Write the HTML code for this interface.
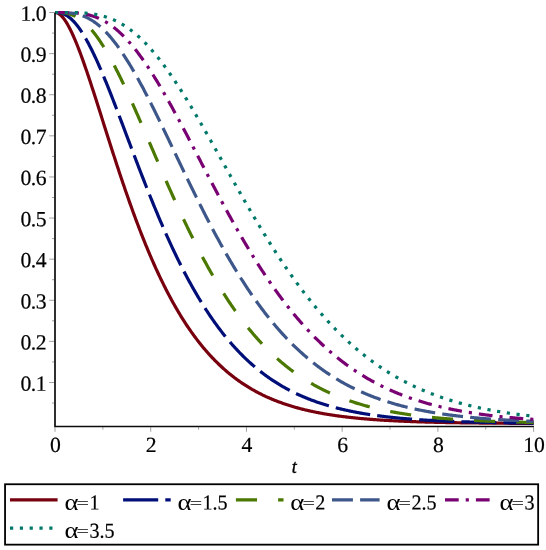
<!DOCTYPE html>
<html><head><meta charset="utf-8"><title>plot</title>
<style>
html,body{margin:0;padding:0;background:#fff;}
svg{display:block}
text{font-family:"Liberation Serif","DejaVu Serif",serif;font-size:21.7px;fill:#000;stroke:#000;stroke-width:0.2px}
.yl text{letter-spacing:-0.6px}
.lg{font-size:20.5px}
.ld{font-size:21.4px}
.al{stroke:none}
.it{font-style:italic;font-size:18px;stroke:#000;stroke-width:0.35px}
.tk line{stroke:#a0a0a0;stroke-width:1}
.cv path{fill:none;stroke-width:3.20}
</style></head><body>
<svg width="546" height="550" viewBox="0 0 546 550">
<rect width="546" height="550" fill="#fff"/>
<g class="tk">
<line x1="52.0" x2="54.2" y1="403.05" y2="403.05"/>
<line x1="49.2" x2="54.2" y1="382.49" y2="382.49"/>
<line x1="52.0" x2="54.2" y1="361.94" y2="361.94"/>
<line x1="49.2" x2="54.2" y1="341.38" y2="341.38"/>
<line x1="52.0" x2="54.2" y1="320.83" y2="320.83"/>
<line x1="49.2" x2="54.2" y1="300.27" y2="300.27"/>
<line x1="52.0" x2="54.2" y1="279.72" y2="279.72"/>
<line x1="49.2" x2="54.2" y1="259.16" y2="259.16"/>
<line x1="52.0" x2="54.2" y1="238.61" y2="238.61"/>
<line x1="49.2" x2="54.2" y1="218.05" y2="218.05"/>
<line x1="52.0" x2="54.2" y1="197.50" y2="197.50"/>
<line x1="49.2" x2="54.2" y1="176.94" y2="176.94"/>
<line x1="52.0" x2="54.2" y1="156.38" y2="156.38"/>
<line x1="49.2" x2="54.2" y1="135.83" y2="135.83"/>
<line x1="52.0" x2="54.2" y1="115.27" y2="115.27"/>
<line x1="49.2" x2="54.2" y1="94.72" y2="94.72"/>
<line x1="52.0" x2="54.2" y1="74.16" y2="74.16"/>
<line x1="49.2" x2="54.2" y1="53.61" y2="53.61"/>
<line x1="52.0" x2="54.2" y1="33.05" y2="33.05"/>
<line x1="49.2" x2="54.2" y1="12.50" y2="12.50"/>
<line y1="427.2" y2="431.8" x1="55.00" x2="55.00"/>
<line y1="427.2" y2="429.6" x1="102.86" x2="102.86"/>
<line y1="427.2" y2="431.8" x1="150.72" x2="150.72"/>
<line y1="427.2" y2="429.6" x1="198.58" x2="198.58"/>
<line y1="427.2" y2="431.8" x1="246.44" x2="246.44"/>
<line y1="427.2" y2="429.6" x1="294.30" x2="294.30"/>
<line y1="427.2" y2="431.8" x1="342.16" x2="342.16"/>
<line y1="427.2" y2="429.6" x1="390.02" x2="390.02"/>
<line y1="427.2" y2="431.8" x1="437.88" x2="437.88"/>
<line y1="427.2" y2="429.6" x1="485.74" x2="485.74"/>
<line y1="427.2" y2="431.8" x1="533.60" x2="533.60"/>
</g>
<g class="cv">
<path d="M55.00 12.50 L55.80 12.56 L56.60 12.72 L57.39 13.00 L58.19 13.37 L58.99 13.85 L59.79 14.42 L60.58 15.09 L61.38 15.85 L62.18 16.69 L62.98 17.61 L63.77 18.62 L64.57 19.70 L65.37 20.86 L66.17 22.09 L66.97 23.39 L67.76 24.76 L68.56 26.19 L69.36 27.68 L70.16 29.24 L70.95 30.85 L71.75 32.51 L72.55 34.22 L73.35 35.99 L74.14 37.80 L74.94 39.66 L75.74 41.57 L76.54 43.51 L77.33 45.50 L78.13 47.52 L78.93 49.58 L79.73 51.68 L80.53 53.81 L81.32 55.96 L82.12 58.15 L82.92 60.37 L83.72 62.61 L84.51 64.88 L85.31 67.17 L86.11 69.49 L86.91 71.82 L87.70 74.18 L88.50 76.55 L89.30 78.94 L90.10 81.35 L90.89 83.77 L91.69 86.20 L92.49 88.65 L93.29 91.11 L94.09 93.57 L94.88 96.05 L95.68 98.54 L96.48 101.03 L97.28 103.53 L98.07 106.03 L98.87 108.54 L99.67 111.05 L100.47 113.57 L101.26 116.09 L102.06 118.61 L102.86 121.13 L103.66 123.65 L104.46 126.17 L105.25 128.69 L106.05 131.20 L106.85 133.72 L107.65 136.23 L108.44 138.74 L109.24 141.24 L110.04 143.74 L110.84 146.23 L111.63 148.71 L112.43 151.19 L113.23 153.67 L114.03 156.13 L114.83 158.59 L115.62 161.04 L116.42 163.48 L117.22 165.91 L118.02 168.34 L118.81 170.75 L119.61 173.15 L120.41 175.54 L121.21 177.93 L122.00 180.30 L122.80 182.66 L123.60 185.01 L124.40 187.34 L125.19 189.67 L125.99 191.98 L126.79 194.28 L127.59 196.56 L128.39 198.84 L129.18 201.10 L129.98 203.35 L130.78 205.58 L131.58 207.80 L132.37 210.01 L133.17 212.20 L133.97 214.38 L134.77 216.54 L135.56 218.69 L136.36 220.83 L137.16 222.95 L137.96 225.05 L138.75 227.14 L139.55 229.22 L140.35 231.28 L141.15 233.33 L141.95 235.36 L142.74 237.37 L143.54 239.38 L144.34 241.36 L145.14 243.33 L145.93 245.29 L146.73 247.23 L147.53 249.15 L148.33 251.06 L149.12 252.95 L149.92 254.83 L150.72 256.69 L151.52 258.54 L152.32 260.37 L153.11 262.19 L153.91 263.99 L154.71 265.77 L155.51 267.54 L156.30 269.29 L157.10 271.03 L157.90 272.76 L158.70 274.47 L159.49 276.16 L160.29 277.84 L161.09 279.50 L161.89 281.15 L162.69 282.78 L163.48 284.40 L164.28 286.00 L165.08 287.59 L165.88 289.16 L166.67 290.72 L167.47 292.26 L168.27 293.79 L169.07 295.30 L169.86 296.80 L170.66 298.28 L171.46 299.75 L172.26 301.21 L173.05 302.65 L173.85 304.08 L174.65 305.49 L175.45 306.89 L176.25 308.28 L177.04 309.65 L177.84 311.00 L178.64 312.35 L179.44 313.68 L180.23 314.99 L181.03 316.30 L181.83 317.59 L182.63 318.86 L183.42 320.13 L184.22 321.38 L185.02 322.61 L185.82 323.84 L186.62 325.05 L187.41 326.25 L188.21 327.43 L189.01 328.60 L189.81 329.76 L190.60 330.91 L191.40 332.05 L192.20 333.17 L193.00 334.28 L193.79 335.38 L194.59 336.47 L195.39 337.54 L196.19 338.61 L196.98 339.66 L197.78 340.70 L198.58 341.73 L199.38 342.75 L200.18 343.75 L200.97 344.75 L201.77 345.73 L202.57 346.71 L203.37 347.67 L204.16 348.62 L204.96 349.56 L205.76 350.49 L206.56 351.41 L207.35 352.32 L208.15 353.22 L208.95 354.11 L209.75 354.99 L210.54 355.85 L211.34 356.71 L212.14 357.56 L212.94 358.40 L213.74 359.23 L214.53 360.05 L215.33 360.86 L216.13 361.66 L216.93 362.45 L217.72 363.23 L218.52 364.01 L219.32 364.77 L220.12 365.52 L220.91 366.27 L221.71 367.01 L222.51 367.74 L223.31 368.46 L224.11 369.17 L224.90 369.87 L225.70 370.56 L226.50 371.25 L227.30 371.93 L228.09 372.60 L228.89 373.26 L229.69 373.91 L230.49 374.56 L231.28 375.20 L232.08 375.83 L232.88 376.45 L233.68 377.07 L234.47 377.68 L235.27 378.28 L236.07 378.87 L236.87 379.46 L237.67 380.04 L238.46 380.61 L239.26 381.17 L240.06 381.73 L240.86 382.28 L241.65 382.82 L242.45 383.36 L243.25 383.89 L244.05 384.42 L244.84 384.94 L245.64 385.45 L246.44 385.95 L247.24 386.45 L248.04 386.94 L248.83 387.43 L249.63 387.91 L250.43 388.39 L251.23 388.85 L252.02 389.32 L252.82 389.77 L253.62 390.22 L254.42 390.67 L255.21 391.11 L256.01 391.54 L256.81 391.97 L257.61 392.40 L258.40 392.81 L259.20 393.23 L260.00 393.63 L260.80 394.04 L261.60 394.43 L262.39 394.83 L263.19 395.21 L263.99 395.60 L264.79 395.97 L265.58 396.35 L266.38 396.71 L267.18 397.08 L267.98 397.43 L268.77 397.79 L269.57 398.14 L270.37 398.48 L271.17 398.82 L271.97 399.16 L272.76 399.49 L273.56 399.82 L274.36 400.14 L275.16 400.46 L275.95 400.77 L276.75 401.08 L277.55 401.39 L278.35 401.69 L279.14 401.99 L279.94 402.29 L280.74 402.58 L281.54 402.87 L282.34 403.15 L283.13 403.43 L283.93 403.70 L284.73 403.98 L285.53 404.25 L286.32 404.51 L287.12 404.77 L287.92 405.03 L288.72 405.29 L289.51 405.54 L290.31 405.79 L291.11 406.03 L291.91 406.27 L292.70 406.51 L293.50 406.75 L294.30 406.98 L295.10 407.21 L295.90 407.44 L296.69 407.66 L297.49 407.88 L298.29 408.10 L299.09 408.31 L299.88 408.52 L300.68 408.73 L301.48 408.94 L302.28 409.14 L303.07 409.34 L303.87 409.54 L304.67 409.73 L305.47 409.93 L306.26 410.12 L307.06 410.30 L307.86 410.49 L308.66 410.67 L309.46 410.85 L310.25 411.03 L311.05 411.21 L311.85 411.38 L312.65 411.55 L313.44 411.72 L314.24 411.88 L315.04 412.05 L315.84 412.21 L316.63 412.37 L317.43 412.52 L318.23 412.68 L319.03 412.83 L319.83 412.98 L320.62 413.13 L321.42 413.28 L322.22 413.42 L323.02 413.57 L323.81 413.71 L324.61 413.85 L325.41 413.98 L326.21 414.12 L327.00 414.25 L327.80 414.38 L328.60 414.51 L329.40 414.64 L330.19 414.77 L330.99 414.89 L331.79 415.02 L332.59 415.14 L333.39 415.26 L334.18 415.37 L334.98 415.49 L335.78 415.60 L336.58 415.72 L337.37 415.83 L338.17 415.94 L338.97 416.05 L339.77 416.15 L340.56 416.26 L341.36 416.36 L342.16 416.47 L342.96 416.57 L343.76 416.67 L344.55 416.77 L345.35 416.86 L346.15 416.96 L346.95 417.05 L347.74 417.15 L348.54 417.24 L349.34 417.33 L350.14 417.42 L350.93 417.51 L351.73 417.59 L352.53 417.68 L353.33 417.76 L354.12 417.85 L354.92 417.93 L355.72 418.01 L356.52 418.09 L357.32 418.17 L358.11 418.25 L358.91 418.32 L359.71 418.40 L360.51 418.47 L361.30 418.55 L362.10 418.62 L362.90 418.69 L363.70 418.76 L364.49 418.83 L365.29 418.90 L366.09 418.96 L366.89 419.03 L367.69 419.10 L368.48 419.16 L369.28 419.22 L370.08 419.29 L370.88 419.35 L371.67 419.41 L372.47 419.47 L373.27 419.53 L374.07 419.59 L374.86 419.65 L375.66 419.70 L376.46 419.76 L377.26 419.82 L378.06 419.87 L378.85 419.92 L379.65 419.98 L380.45 420.03 L381.25 420.08 L382.04 420.13 L382.84 420.18 L383.64 420.23 L384.44 420.28 L385.23 420.33 L386.03 420.37 L386.83 420.42 L387.63 420.47 L388.42 420.51 L389.22 420.56 L390.02 420.60 L390.82 420.64 L391.62 420.69 L392.41 420.73 L393.21 420.77 L394.01 420.81 L394.81 420.85 L395.60 420.89 L396.40 420.93 L397.20 420.97 L398.00 421.01 L398.79 421.05 L399.59 421.08 L400.39 421.12 L401.19 421.16 L401.99 421.19 L402.78 421.23 L403.58 421.26 L404.38 421.29 L405.18 421.33 L405.97 421.36 L406.77 421.39 L407.57 421.43 L408.37 421.46 L409.16 421.49 L409.96 421.52 L410.76 421.55 L411.56 421.58 L412.35 421.61 L413.15 421.64 L413.95 421.67 L414.75 421.70 L415.55 421.72 L416.34 421.75 L417.14 421.78 L417.94 421.80 L418.74 421.83 L419.53 421.86 L420.33 421.88 L421.13 421.91 L421.93 421.93 L422.72 421.96 L423.52 421.98 L424.32 422.00 L425.12 422.03 L425.92 422.05 L426.71 422.07 L427.51 422.10 L428.31 422.12 L429.11 422.14 L429.90 422.16 L430.70 422.18 L431.50 422.20 L432.30 422.22 L433.09 422.24 L433.89 422.26 L434.69 422.28 L435.49 422.30 L436.28 422.32 L437.08 422.34 L437.88 422.36 L438.68 422.38 L439.48 422.40 L440.27 422.41 L441.07 422.43 L441.87 422.45 L442.67 422.46 L443.46 422.48 L444.26 422.50 L445.06 422.51 L445.86 422.53 L446.65 422.55 L447.45 422.56 L448.25 422.58 L449.05 422.59 L449.84 422.61 L450.64 422.62 L451.44 422.64 L452.24 422.65 L453.04 422.66 L453.83 422.68 L454.63 422.69 L455.43 422.70 L456.23 422.72 L457.02 422.73 L457.82 422.74 L458.62 422.76 L459.42 422.77 L460.21 422.78 L461.01 422.79 L461.81 422.81 L462.61 422.82 L463.41 422.83 L464.20 422.84 L465.00 422.85 L465.80 422.86 L466.60 422.87 L467.39 422.88 L468.19 422.89 L468.99 422.91 L469.79 422.92 L470.58 422.93 L471.38 422.94 L472.18 422.95 L472.98 422.96 L473.77 422.96 L474.57 422.97 L475.37 422.98 L476.17 422.99 L476.97 423.00 L477.76 423.01 L478.56 423.02 L479.36 423.03 L480.16 423.04 L480.95 423.04 L481.75 423.05 L482.55 423.06 L483.35 423.07 L484.14 423.08 L484.94 423.08 L485.74 423.09 L486.54 423.10 L487.34 423.11 L488.13 423.11 L488.93 423.12 L489.73 423.13 L490.53 423.14 L491.32 423.14 L492.12 423.15 L492.92 423.16 L493.72 423.16 L494.51 423.17 L495.31 423.18 L496.11 423.18 L496.91 423.19 L497.70 423.20 L498.50 423.20 L499.30 423.21 L500.10 423.21 L500.90 423.22 L501.69 423.22 L502.49 423.23 L503.29 423.24 L504.09 423.24 L504.88 423.25 L505.68 423.25 L506.48 423.26 L507.28 423.26 L508.07 423.27 L508.87 423.27 L509.67 423.28 L510.47 423.28 L511.27 423.29 L512.06 423.29 L512.86 423.30 L513.66 423.30 L514.46 423.30 L515.25 423.31 L516.05 423.31 L516.85 423.32 L517.65 423.32 L518.44 423.33 L519.24 423.33 L520.04 423.33 L520.84 423.34 L521.63 423.34 L522.43 423.35 L523.23 423.35 L524.03 423.35 L524.83 423.36 L525.62 423.36 L526.42 423.36 L527.22 423.37 L528.02 423.37 L528.81 423.38 L529.61 423.38 L530.41 423.38 L531.21 423.39 L532.00 423.39 L532.80 423.39 L533.60 423.39" stroke="#78000E"/>
<path d="M55.00 12.50 L55.80 12.50 L56.60 12.52 L57.39 12.57 L58.19 12.64 L58.99 12.73 L59.79 12.86 L60.58 13.03 L61.38 13.23 L62.18 13.47 L62.98 13.75 L63.77 14.06 L64.57 14.42 L65.37 14.82 L66.17 15.26 L66.97 15.74 L67.76 16.26 L68.56 16.83 L69.36 17.43 L70.16 18.08 L70.95 18.77 L71.75 19.50 L72.55 20.27 L73.35 21.09 L74.14 21.94 L74.94 22.84 L75.74 23.77 L76.54 24.74 L77.33 25.75 L78.13 26.80 L78.93 27.89 L79.73 29.01 L80.53 30.17 L81.32 31.37 L82.12 32.60 L82.92 33.86 L83.72 35.16 L84.51 36.49 L85.31 37.86 L86.11 39.25 L86.91 40.67 L87.70 42.13 L88.50 43.61 L89.30 45.13 L90.10 46.67 L90.89 48.24 L91.69 49.83 L92.49 51.45 L93.29 53.10 L94.09 54.77 L94.88 56.46 L95.68 58.17 L96.48 59.91 L97.28 61.67 L98.07 63.45 L98.87 65.25 L99.67 67.07 L100.47 68.90 L101.26 70.76 L102.06 72.63 L102.86 74.52 L103.66 76.42 L104.46 78.34 L105.25 80.27 L106.05 82.22 L106.85 84.18 L107.65 86.15 L108.44 88.14 L109.24 90.14 L110.04 92.14 L110.84 94.16 L111.63 96.19 L112.43 98.22 L113.23 100.27 L114.03 102.32 L114.83 104.38 L115.62 106.45 L116.42 108.52 L117.22 110.60 L118.02 112.69 L118.81 114.78 L119.61 116.87 L120.41 118.97 L121.21 121.07 L122.00 123.17 L122.80 125.28 L123.60 127.39 L124.40 129.50 L125.19 131.61 L125.99 133.72 L126.79 135.84 L127.59 137.95 L128.39 140.06 L129.18 142.17 L129.98 144.28 L130.78 146.39 L131.58 148.50 L132.37 150.60 L133.17 152.71 L133.97 154.81 L134.77 156.90 L135.56 158.99 L136.36 161.08 L137.16 163.17 L137.96 165.25 L138.75 167.33 L139.55 169.40 L140.35 171.46 L141.15 173.52 L141.95 175.58 L142.74 177.63 L143.54 179.67 L144.34 181.70 L145.14 183.73 L145.93 185.76 L146.73 187.77 L147.53 189.78 L148.33 191.78 L149.12 193.77 L149.92 195.76 L150.72 197.74 L151.52 199.70 L152.32 201.66 L153.11 203.62 L153.91 205.56 L154.71 207.49 L155.51 209.42 L156.30 211.34 L157.10 213.24 L157.90 215.14 L158.70 217.03 L159.49 218.91 L160.29 220.77 L161.09 222.63 L161.89 224.48 L162.69 226.32 L163.48 228.15 L164.28 229.97 L165.08 231.77 L165.88 233.57 L166.67 235.36 L167.47 237.13 L168.27 238.90 L169.07 240.65 L169.86 242.40 L170.66 244.13 L171.46 245.85 L172.26 247.56 L173.05 249.26 L173.85 250.95 L174.65 252.63 L175.45 254.30 L176.25 255.95 L177.04 257.60 L177.84 259.23 L178.64 260.85 L179.44 262.46 L180.23 264.06 L181.03 265.65 L181.83 267.23 L182.63 268.79 L183.42 270.35 L184.22 271.89 L185.02 273.42 L185.82 274.94 L186.62 276.45 L187.41 277.95 L188.21 279.43 L189.01 280.91 L189.81 282.37 L190.60 283.82 L191.40 285.26 L192.20 286.69 L193.00 288.11 L193.79 289.51 L194.59 290.91 L195.39 292.29 L196.19 293.66 L196.98 295.02 L197.78 296.37 L198.58 297.71 L199.38 299.04 L200.18 300.36 L200.97 301.66 L201.77 302.96 L202.57 304.24 L203.37 305.51 L204.16 306.78 L204.96 308.03 L205.76 309.27 L206.56 310.50 L207.35 311.72 L208.15 312.92 L208.95 314.12 L209.75 315.31 L210.54 316.48 L211.34 317.65 L212.14 318.81 L212.94 319.95 L213.74 321.08 L214.53 322.21 L215.33 323.32 L216.13 324.43 L216.93 325.52 L217.72 326.60 L218.52 327.68 L219.32 328.74 L220.12 329.79 L220.91 330.84 L221.71 331.87 L222.51 332.89 L223.31 333.91 L224.11 334.91 L224.90 335.91 L225.70 336.89 L226.50 337.87 L227.30 338.84 L228.09 339.79 L228.89 340.74 L229.69 341.68 L230.49 342.61 L231.28 343.53 L232.08 344.44 L232.88 345.34 L233.68 346.24 L234.47 347.12 L235.27 348.00 L236.07 348.87 L236.87 349.72 L237.67 350.57 L238.46 351.42 L239.26 352.25 L240.06 353.07 L240.86 353.89 L241.65 354.70 L242.45 355.50 L243.25 356.29 L244.05 357.07 L244.84 357.85 L245.64 358.61 L246.44 359.37 L247.24 360.12 L248.04 360.87 L248.83 361.60 L249.63 362.33 L250.43 363.05 L251.23 363.76 L252.02 364.47 L252.82 365.17 L253.62 365.86 L254.42 366.54 L255.21 367.22 L256.01 367.89 L256.81 368.55 L257.61 369.20 L258.40 369.85 L259.20 370.49 L260.00 371.12 L260.80 371.75 L261.60 372.37 L262.39 372.98 L263.19 373.59 L263.99 374.19 L264.79 374.79 L265.58 375.37 L266.38 375.95 L267.18 376.53 L267.98 377.10 L268.77 377.66 L269.57 378.21 L270.37 378.76 L271.17 379.31 L271.97 379.84 L272.76 380.38 L273.56 380.90 L274.36 381.42 L275.16 381.94 L275.95 382.44 L276.75 382.95 L277.55 383.44 L278.35 383.94 L279.14 384.42 L279.94 384.90 L280.74 385.38 L281.54 385.85 L282.34 386.31 L283.13 386.77 L283.93 387.22 L284.73 387.67 L285.53 388.12 L286.32 388.55 L287.12 388.99 L287.92 389.42 L288.72 389.84 L289.51 390.26 L290.31 390.67 L291.11 391.08 L291.91 391.49 L292.70 391.89 L293.50 392.28 L294.30 392.67 L295.10 393.06 L295.90 393.44 L296.69 393.82 L297.49 394.19 L298.29 394.56 L299.09 394.92 L299.88 395.28 L300.68 395.64 L301.48 395.99 L302.28 396.33 L303.07 396.68 L303.87 397.02 L304.67 397.35 L305.47 397.68 L306.26 398.01 L307.06 398.33 L307.86 398.65 L308.66 398.97 L309.46 399.28 L310.25 399.59 L311.05 399.89 L311.85 400.20 L312.65 400.49 L313.44 400.79 L314.24 401.08 L315.04 401.36 L315.84 401.65 L316.63 401.93 L317.43 402.20 L318.23 402.48 L319.03 402.75 L319.83 403.01 L320.62 403.28 L321.42 403.54 L322.22 403.80 L323.02 404.05 L323.81 404.30 L324.61 404.55 L325.41 404.79 L326.21 405.04 L327.00 405.27 L327.80 405.51 L328.60 405.74 L329.40 405.97 L330.19 406.20 L330.99 406.43 L331.79 406.65 L332.59 406.87 L333.39 407.09 L334.18 407.30 L334.98 407.51 L335.78 407.72 L336.58 407.93 L337.37 408.13 L338.17 408.33 L338.97 408.53 L339.77 408.72 L340.56 408.92 L341.36 409.11 L342.16 409.30 L342.96 409.49 L343.76 409.67 L344.55 409.85 L345.35 410.03 L346.15 410.21 L346.95 410.38 L347.74 410.56 L348.54 410.73 L349.34 410.90 L350.14 411.06 L350.93 411.23 L351.73 411.39 L352.53 411.55 L353.33 411.71 L354.12 411.87 L354.92 412.02 L355.72 412.17 L356.52 412.32 L357.32 412.47 L358.11 412.62 L358.91 412.76 L359.71 412.91 L360.51 413.05 L361.30 413.19 L362.10 413.33 L362.90 413.46 L363.70 413.60 L364.49 413.73 L365.29 413.86 L366.09 413.99 L366.89 414.12 L367.69 414.24 L368.48 414.37 L369.28 414.49 L370.08 414.61 L370.88 414.73 L371.67 414.85 L372.47 414.97 L373.27 415.08 L374.07 415.19 L374.86 415.31 L375.66 415.42 L376.46 415.53 L377.26 415.63 L378.06 415.74 L378.85 415.85 L379.65 415.95 L380.45 416.05 L381.25 416.15 L382.04 416.25 L382.84 416.35 L383.64 416.45 L384.44 416.54 L385.23 416.64 L386.03 416.73 L386.83 416.83 L387.63 416.92 L388.42 417.01 L389.22 417.10 L390.02 417.18 L390.82 417.27 L391.62 417.35 L392.41 417.44 L393.21 417.52 L394.01 417.60 L394.81 417.69 L395.60 417.77 L396.40 417.84 L397.20 417.92 L398.00 418.00 L398.79 418.07 L399.59 418.15 L400.39 418.22 L401.19 418.30 L401.99 418.37 L402.78 418.44 L403.58 418.51 L404.38 418.58 L405.18 418.65 L405.97 418.71 L406.77 418.78 L407.57 418.85 L408.37 418.91 L409.16 418.97 L409.96 419.04 L410.76 419.10 L411.56 419.16 L412.35 419.22 L413.15 419.28 L413.95 419.34 L414.75 419.40 L415.55 419.46 L416.34 419.51 L417.14 419.57 L417.94 419.62 L418.74 419.68 L419.53 419.73 L420.33 419.78 L421.13 419.84 L421.93 419.89 L422.72 419.94 L423.52 419.99 L424.32 420.04 L425.12 420.09 L425.92 420.14 L426.71 420.18 L427.51 420.23 L428.31 420.28 L429.11 420.32 L429.90 420.37 L430.70 420.41 L431.50 420.46 L432.30 420.50 L433.09 420.54 L433.89 420.58 L434.69 420.63 L435.49 420.67 L436.28 420.71 L437.08 420.75 L437.88 420.79 L438.68 420.83 L439.48 420.86 L440.27 420.90 L441.07 420.94 L441.87 420.98 L442.67 421.01 L443.46 421.05 L444.26 421.08 L445.06 421.12 L445.86 421.15 L446.65 421.19 L447.45 421.22 L448.25 421.25 L449.05 421.29 L449.84 421.32 L450.64 421.35 L451.44 421.38 L452.24 421.41 L453.04 421.44 L453.83 421.47 L454.63 421.50 L455.43 421.53 L456.23 421.56 L457.02 421.59 L457.82 421.62 L458.62 421.64 L459.42 421.67 L460.21 421.70 L461.01 421.72 L461.81 421.75 L462.61 421.78 L463.41 421.80 L464.20 421.83 L465.00 421.85 L465.80 421.88 L466.60 421.90 L467.39 421.92 L468.19 421.95 L468.99 421.97 L469.79 421.99 L470.58 422.02 L471.38 422.04 L472.18 422.06 L472.98 422.08 L473.77 422.10 L474.57 422.12 L475.37 422.14 L476.17 422.16 L476.97 422.18 L477.76 422.20 L478.56 422.22 L479.36 422.24 L480.16 422.26 L480.95 422.28 L481.75 422.30 L482.55 422.32 L483.35 422.34 L484.14 422.35 L484.94 422.37 L485.74 422.39 L486.54 422.41 L487.34 422.42 L488.13 422.44 L488.93 422.46 L489.73 422.47 L490.53 422.49 L491.32 422.50 L492.12 422.52 L492.92 422.53 L493.72 422.55 L494.51 422.56 L495.31 422.58 L496.11 422.59 L496.91 422.61 L497.70 422.62 L498.50 422.64 L499.30 422.65 L500.10 422.66 L500.90 422.68 L501.69 422.69 L502.49 422.70 L503.29 422.71 L504.09 422.73 L504.88 422.74 L505.68 422.75 L506.48 422.76 L507.28 422.78 L508.07 422.79 L508.87 422.80 L509.67 422.81 L510.47 422.82 L511.27 422.83 L512.06 422.84 L512.86 422.85 L513.66 422.86 L514.46 422.87 L515.25 422.89 L516.05 422.90 L516.85 422.91 L517.65 422.92 L518.44 422.92 L519.24 422.93 L520.04 422.94 L520.84 422.95 L521.63 422.96 L522.43 422.97 L523.23 422.98 L524.03 422.99 L524.83 423.00 L525.62 423.01 L526.42 423.02 L527.22 423.02 L528.02 423.03 L528.81 423.04 L529.61 423.05 L530.41 423.06 L531.21 423.06 L532.00 423.07 L532.80 423.08 L533.60 423.09" stroke="#000E78" stroke-dasharray="35.1 7.1"/>
<path d="M55.00 12.50 L55.80 12.50 L56.60 12.50 L57.39 12.51 L58.19 12.52 L58.99 12.54 L59.79 12.56 L60.58 12.60 L61.38 12.65 L62.18 12.71 L62.98 12.78 L63.77 12.87 L64.57 12.97 L65.37 13.09 L66.17 13.23 L66.97 13.39 L67.76 13.57 L68.56 13.76 L69.36 13.98 L70.16 14.22 L70.95 14.48 L71.75 14.76 L72.55 15.07 L73.35 15.40 L74.14 15.76 L74.94 16.14 L75.74 16.54 L76.54 16.97 L77.33 17.43 L78.13 17.91 L78.93 18.41 L79.73 18.95 L80.53 19.51 L81.32 20.09 L82.12 20.70 L82.92 21.34 L83.72 22.00 L84.51 22.69 L85.31 23.41 L86.11 24.15 L86.91 24.92 L87.70 25.71 L88.50 26.54 L89.30 27.38 L90.10 28.25 L90.89 29.15 L91.69 30.07 L92.49 31.02 L93.29 32.00 L94.09 32.99 L94.88 34.01 L95.68 35.06 L96.48 36.13 L97.28 37.22 L98.07 38.34 L98.87 39.48 L99.67 40.64 L100.47 41.83 L101.26 43.03 L102.06 44.26 L102.86 45.51 L103.66 46.78 L104.46 48.07 L105.25 49.39 L106.05 50.72 L106.85 52.07 L107.65 53.44 L108.44 54.83 L109.24 56.24 L110.04 57.66 L110.84 59.10 L111.63 60.57 L112.43 62.04 L113.23 63.54 L114.03 65.05 L114.83 66.57 L115.62 68.11 L116.42 69.67 L117.22 71.24 L118.02 72.83 L118.81 74.42 L119.61 76.04 L120.41 77.66 L121.21 79.30 L122.00 80.95 L122.80 82.61 L123.60 84.28 L124.40 85.97 L125.19 87.66 L125.99 89.37 L126.79 91.08 L127.59 92.81 L128.39 94.54 L129.18 96.28 L129.98 98.04 L130.78 99.79 L131.58 101.56 L132.37 103.34 L133.17 105.12 L133.97 106.90 L134.77 108.70 L135.56 110.50 L136.36 112.31 L137.16 114.12 L137.96 115.93 L138.75 117.75 L139.55 119.58 L140.35 121.41 L141.15 123.24 L141.95 125.08 L142.74 126.92 L143.54 128.76 L144.34 130.60 L145.14 132.45 L145.93 134.30 L146.73 136.15 L147.53 138.00 L148.33 139.86 L149.12 141.71 L149.92 143.56 L150.72 145.42 L151.52 147.27 L152.32 149.13 L153.11 150.98 L153.91 152.83 L154.71 154.69 L155.51 156.54 L156.30 158.39 L157.10 160.23 L157.90 162.08 L158.70 163.92 L159.49 165.76 L160.29 167.60 L161.09 169.44 L161.89 171.27 L162.69 173.10 L163.48 174.93 L164.28 176.75 L165.08 178.57 L165.88 180.38 L166.67 182.19 L167.47 184.00 L168.27 185.80 L169.07 187.60 L169.86 189.39 L170.66 191.18 L171.46 192.96 L172.26 194.74 L173.05 196.51 L173.85 198.28 L174.65 200.04 L175.45 201.79 L176.25 203.54 L177.04 205.28 L177.84 207.02 L178.64 208.75 L179.44 210.47 L180.23 212.19 L181.03 213.90 L181.83 215.60 L182.63 217.30 L183.42 218.99 L184.22 220.67 L185.02 222.35 L185.82 224.01 L186.62 225.67 L187.41 227.33 L188.21 228.97 L189.01 230.61 L189.81 232.24 L190.60 233.86 L191.40 235.47 L192.20 237.08 L193.00 238.68 L193.79 240.26 L194.59 241.85 L195.39 243.42 L196.19 244.98 L196.98 246.54 L197.78 248.09 L198.58 249.63 L199.38 251.16 L200.18 252.68 L200.97 254.19 L201.77 255.70 L202.57 257.19 L203.37 258.68 L204.16 260.16 L204.96 261.63 L205.76 263.09 L206.56 264.54 L207.35 265.99 L208.15 267.42 L208.95 268.85 L209.75 270.26 L210.54 271.67 L211.34 273.07 L212.14 274.46 L212.94 275.84 L213.74 277.21 L214.53 278.57 L215.33 279.93 L216.13 281.27 L216.93 282.61 L217.72 283.93 L218.52 285.25 L219.32 286.56 L220.12 287.86 L220.91 289.15 L221.71 290.43 L222.51 291.70 L223.31 292.96 L224.11 294.22 L224.90 295.46 L225.70 296.70 L226.50 297.92 L227.30 299.14 L228.09 300.35 L228.89 301.55 L229.69 302.74 L230.49 303.92 L231.28 305.09 L232.08 306.26 L232.88 307.41 L233.68 308.56 L234.47 309.70 L235.27 310.83 L236.07 311.95 L236.87 313.06 L237.67 314.16 L238.46 315.25 L239.26 316.34 L240.06 317.41 L240.86 318.48 L241.65 319.54 L242.45 320.59 L243.25 321.63 L244.05 322.67 L244.84 323.69 L245.64 324.71 L246.44 325.72 L247.24 326.72 L248.04 327.71 L248.83 328.69 L249.63 329.66 L250.43 330.63 L251.23 331.59 L252.02 332.54 L252.82 333.48 L253.62 334.42 L254.42 335.34 L255.21 336.26 L256.01 337.17 L256.81 338.07 L257.61 338.97 L258.40 339.85 L259.20 340.73 L260.00 341.60 L260.80 342.47 L261.60 343.32 L262.39 344.17 L263.19 345.01 L263.99 345.84 L264.79 346.67 L265.58 347.49 L266.38 348.30 L267.18 349.10 L267.98 349.90 L268.77 350.69 L269.57 351.47 L270.37 352.24 L271.17 353.01 L271.97 353.77 L272.76 354.52 L273.56 355.27 L274.36 356.01 L275.16 356.74 L275.95 357.46 L276.75 358.18 L277.55 358.89 L278.35 359.60 L279.14 360.30 L279.94 360.99 L280.74 361.67 L281.54 362.35 L282.34 363.02 L283.13 363.69 L283.93 364.35 L284.73 365.00 L285.53 365.65 L286.32 366.29 L287.12 366.92 L287.92 367.55 L288.72 368.17 L289.51 368.79 L290.31 369.40 L291.11 370.00 L291.91 370.60 L292.70 371.19 L293.50 371.78 L294.30 372.36 L295.10 372.93 L295.90 373.50 L296.69 374.06 L297.49 374.62 L298.29 375.17 L299.09 375.72 L299.88 376.26 L300.68 376.79 L301.48 377.32 L302.28 377.85 L303.07 378.36 L303.87 378.88 L304.67 379.39 L305.47 379.89 L306.26 380.39 L307.06 380.88 L307.86 381.37 L308.66 381.85 L309.46 382.33 L310.25 382.80 L311.05 383.27 L311.85 383.73 L312.65 384.19 L313.44 384.65 L314.24 385.09 L315.04 385.54 L315.84 385.98 L316.63 386.41 L317.43 386.84 L318.23 387.27 L319.03 387.69 L319.83 388.11 L320.62 388.52 L321.42 388.93 L322.22 389.33 L323.02 389.73 L323.81 390.13 L324.61 390.52 L325.41 390.90 L326.21 391.29 L327.00 391.66 L327.80 392.04 L328.60 392.41 L329.40 392.78 L330.19 393.14 L330.99 393.50 L331.79 393.85 L332.59 394.20 L333.39 394.55 L334.18 394.89 L334.98 395.23 L335.78 395.57 L336.58 395.90 L337.37 396.23 L338.17 396.55 L338.97 396.87 L339.77 397.19 L340.56 397.51 L341.36 397.82 L342.16 398.12 L342.96 398.43 L343.76 398.73 L344.55 399.03 L345.35 399.32 L346.15 399.61 L346.95 399.90 L347.74 400.18 L348.54 400.46 L349.34 400.74 L350.14 401.02 L350.93 401.29 L351.73 401.56 L352.53 401.82 L353.33 402.09 L354.12 402.35 L354.92 402.60 L355.72 402.86 L356.52 403.11 L357.32 403.36 L358.11 403.60 L358.91 403.84 L359.71 404.08 L360.51 404.32 L361.30 404.56 L362.10 404.79 L362.90 405.02 L363.70 405.24 L364.49 405.47 L365.29 405.69 L366.09 405.91 L366.89 406.12 L367.69 406.34 L368.48 406.55 L369.28 406.76 L370.08 406.97 L370.88 407.17 L371.67 407.37 L372.47 407.57 L373.27 407.77 L374.07 407.96 L374.86 408.16 L375.66 408.35 L376.46 408.53 L377.26 408.72 L378.06 408.90 L378.85 409.09 L379.65 409.27 L380.45 409.44 L381.25 409.62 L382.04 409.79 L382.84 409.96 L383.64 410.13 L384.44 410.30 L385.23 410.46 L386.03 410.63 L386.83 410.79 L387.63 410.95 L388.42 411.11 L389.22 411.26 L390.02 411.42 L390.82 411.57 L391.62 411.72 L392.41 411.87 L393.21 412.01 L394.01 412.16 L394.81 412.30 L395.60 412.44 L396.40 412.58 L397.20 412.72 L398.00 412.86 L398.79 412.99 L399.59 413.13 L400.39 413.26 L401.19 413.39 L401.99 413.52 L402.78 413.65 L403.58 413.77 L404.38 413.90 L405.18 414.02 L405.97 414.14 L406.77 414.26 L407.57 414.38 L408.37 414.49 L409.16 414.61 L409.96 414.72 L410.76 414.84 L411.56 414.95 L412.35 415.06 L413.15 415.17 L413.95 415.27 L414.75 415.38 L415.55 415.48 L416.34 415.59 L417.14 415.69 L417.94 415.79 L418.74 415.89 L419.53 415.99 L420.33 416.08 L421.13 416.18 L421.93 416.28 L422.72 416.37 L423.52 416.46 L424.32 416.55 L425.12 416.64 L425.92 416.73 L426.71 416.82 L427.51 416.91 L428.31 416.99 L429.11 417.08 L429.90 417.16 L430.70 417.25 L431.50 417.33 L432.30 417.41 L433.09 417.49 L433.89 417.57 L434.69 417.64 L435.49 417.72 L436.28 417.80 L437.08 417.87 L437.88 417.95 L438.68 418.02 L439.48 418.09 L440.27 418.16 L441.07 418.23 L441.87 418.30 L442.67 418.37 L443.46 418.44 L444.26 418.51 L445.06 418.57 L445.86 418.64 L446.65 418.70 L447.45 418.77 L448.25 418.83 L449.05 418.89 L449.84 418.95 L450.64 419.01 L451.44 419.07 L452.24 419.13 L453.04 419.19 L453.83 419.25 L454.63 419.30 L455.43 419.36 L456.23 419.41 L457.02 419.47 L457.82 419.52 L458.62 419.58 L459.42 419.63 L460.21 419.68 L461.01 419.73 L461.81 419.78 L462.61 419.83 L463.41 419.88 L464.20 419.93 L465.00 419.98 L465.80 420.03 L466.60 420.07 L467.39 420.12 L468.19 420.17 L468.99 420.21 L469.79 420.26 L470.58 420.30 L471.38 420.34 L472.18 420.39 L472.98 420.43 L473.77 420.47 L474.57 420.51 L475.37 420.55 L476.17 420.59 L476.97 420.63 L477.76 420.67 L478.56 420.71 L479.36 420.75 L480.16 420.79 L480.95 420.82 L481.75 420.86 L482.55 420.90 L483.35 420.93 L484.14 420.97 L484.94 421.00 L485.74 421.04 L486.54 421.07 L487.34 421.11 L488.13 421.14 L488.93 421.17 L489.73 421.20 L490.53 421.24 L491.32 421.27 L492.12 421.30 L492.92 421.33 L493.72 421.36 L494.51 421.39 L495.31 421.42 L496.11 421.45 L496.91 421.48 L497.70 421.50 L498.50 421.53 L499.30 421.56 L500.10 421.59 L500.90 421.61 L501.69 421.64 L502.49 421.67 L503.29 421.69 L504.09 421.72 L504.88 421.74 L505.68 421.77 L506.48 421.79 L507.28 421.82 L508.07 421.84 L508.87 421.87 L509.67 421.89 L510.47 421.91 L511.27 421.93 L512.06 421.96 L512.86 421.98 L513.66 422.00 L514.46 422.02 L515.25 422.04 L516.05 422.06 L516.85 422.08 L517.65 422.11 L518.44 422.13 L519.24 422.15 L520.04 422.16 L520.84 422.18 L521.63 422.20 L522.43 422.22 L523.23 422.24 L524.03 422.26 L524.83 422.28 L525.62 422.30 L526.42 422.31 L527.22 422.33 L528.02 422.35 L528.81 422.36 L529.61 422.38 L530.41 422.40 L531.21 422.41 L532.00 422.43 L532.80 422.45 L533.60 422.46" stroke="#4A7800" stroke-dasharray="21.15 21.05"/>
<path d="M55.00 12.50 L55.80 12.50 L56.60 12.50 L57.39 12.50 L58.19 12.50 L58.99 12.51 L59.79 12.51 L60.58 12.52 L61.38 12.53 L62.18 12.54 L62.98 12.56 L63.77 12.58 L64.57 12.61 L65.37 12.64 L66.17 12.68 L66.97 12.73 L67.76 12.78 L68.56 12.84 L69.36 12.91 L70.16 12.99 L70.95 13.08 L71.75 13.18 L72.55 13.29 L73.35 13.42 L74.14 13.55 L74.94 13.70 L75.74 13.86 L76.54 14.03 L77.33 14.21 L78.13 14.41 L78.93 14.63 L79.73 14.85 L80.53 15.10 L81.32 15.36 L82.12 15.63 L82.92 15.92 L83.72 16.23 L84.51 16.55 L85.31 16.89 L86.11 17.25 L86.91 17.63 L87.70 18.02 L88.50 18.43 L89.30 18.86 L90.10 19.31 L90.89 19.77 L91.69 20.26 L92.49 20.76 L93.29 21.28 L94.09 21.82 L94.88 22.38 L95.68 22.96 L96.48 23.55 L97.28 24.17 L98.07 24.80 L98.87 25.46 L99.67 26.13 L100.47 26.82 L101.26 27.53 L102.06 28.26 L102.86 29.01 L103.66 29.78 L104.46 30.56 L105.25 31.37 L106.05 32.19 L106.85 33.04 L107.65 33.90 L108.44 34.78 L109.24 35.68 L110.04 36.59 L110.84 37.53 L111.63 38.48 L112.43 39.45 L113.23 40.44 L114.03 41.45 L114.83 42.47 L115.62 43.51 L116.42 44.57 L117.22 45.64 L118.02 46.73 L118.81 47.84 L119.61 48.96 L120.41 50.10 L121.21 51.26 L122.00 52.43 L122.80 53.62 L123.60 54.82 L124.40 56.04 L125.19 57.27 L125.99 58.51 L126.79 59.78 L127.59 61.05 L128.39 62.34 L129.18 63.64 L129.98 64.96 L130.78 66.29 L131.58 67.63 L132.37 68.98 L133.17 70.35 L133.97 71.73 L134.77 73.12 L135.56 74.52 L136.36 75.93 L137.16 77.36 L137.96 78.79 L138.75 80.24 L139.55 81.70 L140.35 83.16 L141.15 84.64 L141.95 86.12 L142.74 87.62 L143.54 89.12 L144.34 90.64 L145.14 92.16 L145.93 93.69 L146.73 95.23 L147.53 96.78 L148.33 98.33 L149.12 99.89 L149.92 101.46 L150.72 103.03 L151.52 104.62 L152.32 106.20 L153.11 107.80 L153.91 109.40 L154.71 111.00 L155.51 112.61 L156.30 114.23 L157.10 115.85 L157.90 117.48 L158.70 119.11 L159.49 120.74 L160.29 122.38 L161.09 124.02 L161.89 125.66 L162.69 127.31 L163.48 128.96 L164.28 130.62 L165.08 132.28 L165.88 133.94 L166.67 135.60 L167.47 137.26 L168.27 138.93 L169.07 140.59 L169.86 142.26 L170.66 143.93 L171.46 145.60 L172.26 147.27 L173.05 148.94 L173.85 150.62 L174.65 152.29 L175.45 153.96 L176.25 155.63 L177.04 157.31 L177.84 158.98 L178.64 160.65 L179.44 162.32 L180.23 163.99 L181.03 165.65 L181.83 167.32 L182.63 168.98 L183.42 170.65 L184.22 172.31 L185.02 173.96 L185.82 175.62 L186.62 177.28 L187.41 178.93 L188.21 180.58 L189.01 182.22 L189.81 183.87 L190.60 185.51 L191.40 187.14 L192.20 188.78 L193.00 190.41 L193.79 192.03 L194.59 193.66 L195.39 195.27 L196.19 196.89 L196.98 198.50 L197.78 200.11 L198.58 201.71 L199.38 203.31 L200.18 204.90 L200.97 206.49 L201.77 208.07 L202.57 209.65 L203.37 211.23 L204.16 212.79 L204.96 214.36 L205.76 215.92 L206.56 217.47 L207.35 219.02 L208.15 220.56 L208.95 222.10 L209.75 223.63 L210.54 225.15 L211.34 226.67 L212.14 228.19 L212.94 229.69 L213.74 231.19 L214.53 232.69 L215.33 234.18 L216.13 235.66 L216.93 237.14 L217.72 238.61 L218.52 240.07 L219.32 241.53 L220.12 242.98 L220.91 244.42 L221.71 245.86 L222.51 247.29 L223.31 248.71 L224.11 250.13 L224.90 251.54 L225.70 252.94 L226.50 254.34 L227.30 255.72 L228.09 257.11 L228.89 258.48 L229.69 259.85 L230.49 261.21 L231.28 262.56 L232.08 263.91 L232.88 265.25 L233.68 266.58 L234.47 267.90 L235.27 269.22 L236.07 270.53 L236.87 271.83 L237.67 273.12 L238.46 274.41 L239.26 275.69 L240.06 276.96 L240.86 278.23 L241.65 279.48 L242.45 280.73 L243.25 281.98 L244.05 283.21 L244.84 284.44 L245.64 285.66 L246.44 286.87 L247.24 288.08 L248.04 289.27 L248.83 290.46 L249.63 291.64 L250.43 292.82 L251.23 293.98 L252.02 295.14 L252.82 296.30 L253.62 297.44 L254.42 298.58 L255.21 299.71 L256.01 300.83 L256.81 301.94 L257.61 303.05 L258.40 304.15 L259.20 305.24 L260.00 306.32 L260.80 307.40 L261.60 308.47 L262.39 309.53 L263.19 310.58 L263.99 311.63 L264.79 312.67 L265.58 313.70 L266.38 314.72 L267.18 315.74 L267.98 316.75 L268.77 317.75 L269.57 318.75 L270.37 319.73 L271.17 320.71 L271.97 321.69 L272.76 322.65 L273.56 323.61 L274.36 324.56 L275.16 325.51 L275.95 326.44 L276.75 327.37 L277.55 328.30 L278.35 329.21 L279.14 330.12 L279.94 331.02 L280.74 331.92 L281.54 332.80 L282.34 333.68 L283.13 334.56 L283.93 335.42 L284.73 336.28 L285.53 337.14 L286.32 337.98 L287.12 338.82 L287.92 339.66 L288.72 340.48 L289.51 341.30 L290.31 342.11 L291.11 342.92 L291.91 343.72 L292.70 344.51 L293.50 345.30 L294.30 346.08 L295.10 346.85 L295.90 347.62 L296.69 348.38 L297.49 349.13 L298.29 349.88 L299.09 350.62 L299.88 351.36 L300.68 352.09 L301.48 352.81 L302.28 353.52 L303.07 354.24 L303.87 354.94 L304.67 355.64 L305.47 356.33 L306.26 357.02 L307.06 357.70 L307.86 358.37 L308.66 359.04 L309.46 359.70 L310.25 360.36 L311.05 361.01 L311.85 361.65 L312.65 362.29 L313.44 362.93 L314.24 363.56 L315.04 364.18 L315.84 364.80 L316.63 365.41 L317.43 366.01 L318.23 366.61 L319.03 367.21 L319.83 367.80 L320.62 368.38 L321.42 368.96 L322.22 369.54 L323.02 370.10 L323.81 370.67 L324.61 371.22 L325.41 371.78 L326.21 372.33 L327.00 372.87 L327.80 373.41 L328.60 373.94 L329.40 374.47 L330.19 374.99 L330.99 375.51 L331.79 376.02 L332.59 376.53 L333.39 377.03 L334.18 377.53 L334.98 378.02 L335.78 378.51 L336.58 379.00 L337.37 379.48 L338.17 379.95 L338.97 380.42 L339.77 380.89 L340.56 381.35 L341.36 381.81 L342.16 382.26 L342.96 382.71 L343.76 383.15 L344.55 383.59 L345.35 384.03 L346.15 384.46 L346.95 384.89 L347.74 385.31 L348.54 385.73 L349.34 386.14 L350.14 386.55 L350.93 386.96 L351.73 387.36 L352.53 387.76 L353.33 388.16 L354.12 388.55 L354.92 388.93 L355.72 389.32 L356.52 389.69 L357.32 390.07 L358.11 390.44 L358.91 390.81 L359.71 391.17 L360.51 391.53 L361.30 391.89 L362.10 392.24 L362.90 392.59 L363.70 392.94 L364.49 393.28 L365.29 393.62 L366.09 393.96 L366.89 394.29 L367.69 394.62 L368.48 394.94 L369.28 395.26 L370.08 395.58 L370.88 395.90 L371.67 396.21 L372.47 396.52 L373.27 396.83 L374.07 397.13 L374.86 397.43 L375.66 397.72 L376.46 398.02 L377.26 398.31 L378.06 398.60 L378.85 398.88 L379.65 399.16 L380.45 399.44 L381.25 399.71 L382.04 399.99 L382.84 400.26 L383.64 400.52 L384.44 400.79 L385.23 401.05 L386.03 401.31 L386.83 401.56 L387.63 401.82 L388.42 402.07 L389.22 402.31 L390.02 402.56 L390.82 402.80 L391.62 403.04 L392.41 403.28 L393.21 403.51 L394.01 403.75 L394.81 403.98 L395.60 404.20 L396.40 404.43 L397.20 404.65 L398.00 404.87 L398.79 405.09 L399.59 405.30 L400.39 405.52 L401.19 405.73 L401.99 405.93 L402.78 406.14 L403.58 406.34 L404.38 406.55 L405.18 406.75 L405.97 406.94 L406.77 407.14 L407.57 407.33 L408.37 407.52 L409.16 407.71 L409.96 407.90 L410.76 408.08 L411.56 408.26 L412.35 408.45 L413.15 408.62 L413.95 408.80 L414.75 408.98 L415.55 409.15 L416.34 409.32 L417.14 409.49 L417.94 409.65 L418.74 409.82 L419.53 409.98 L420.33 410.15 L421.13 410.30 L421.93 410.46 L422.72 410.62 L423.52 410.77 L424.32 410.93 L425.12 411.08 L425.92 411.23 L426.71 411.37 L427.51 411.52 L428.31 411.66 L429.11 411.81 L429.90 411.95 L430.70 412.09 L431.50 412.23 L432.30 412.36 L433.09 412.50 L433.89 412.63 L434.69 412.76 L435.49 412.89 L436.28 413.02 L437.08 413.15 L437.88 413.27 L438.68 413.40 L439.48 413.52 L440.27 413.64 L441.07 413.76 L441.87 413.88 L442.67 414.00 L443.46 414.12 L444.26 414.23 L445.06 414.35 L445.86 414.46 L446.65 414.57 L447.45 414.68 L448.25 414.79 L449.05 414.89 L449.84 415.00 L450.64 415.10 L451.44 415.21 L452.24 415.31 L453.04 415.41 L453.83 415.51 L454.63 415.61 L455.43 415.71 L456.23 415.80 L457.02 415.90 L457.82 415.99 L458.62 416.09 L459.42 416.18 L460.21 416.27 L461.01 416.36 L461.81 416.45 L462.61 416.54 L463.41 416.62 L464.20 416.71 L465.00 416.79 L465.80 416.88 L466.60 416.96 L467.39 417.04 L468.19 417.12 L468.99 417.20 L469.79 417.28 L470.58 417.36 L471.38 417.44 L472.18 417.51 L472.98 417.59 L473.77 417.66 L474.57 417.74 L475.37 417.81 L476.17 417.88 L476.97 417.95 L477.76 418.02 L478.56 418.09 L479.36 418.16 L480.16 418.23 L480.95 418.29 L481.75 418.36 L482.55 418.43 L483.35 418.49 L484.14 418.55 L484.94 418.62 L485.74 418.68 L486.54 418.74 L487.34 418.80 L488.13 418.86 L488.93 418.92 L489.73 418.98 L490.53 419.04 L491.32 419.09 L492.12 419.15 L492.92 419.21 L493.72 419.26 L494.51 419.32 L495.31 419.37 L496.11 419.42 L496.91 419.48 L497.70 419.53 L498.50 419.58 L499.30 419.63 L500.10 419.68 L500.90 419.73 L501.69 419.78 L502.49 419.83 L503.29 419.87 L504.09 419.92 L504.88 419.97 L505.68 420.01 L506.48 420.06 L507.28 420.10 L508.07 420.15 L508.87 420.19 L509.67 420.23 L510.47 420.28 L511.27 420.32 L512.06 420.36 L512.86 420.40 L513.66 420.44 L514.46 420.48 L515.25 420.52 L516.05 420.56 L516.85 420.60 L517.65 420.64 L518.44 420.68 L519.24 420.71 L520.04 420.75 L520.84 420.79 L521.63 420.82 L522.43 420.86 L523.23 420.89 L524.03 420.93 L524.83 420.96 L525.62 421.00 L526.42 421.03 L527.22 421.06 L528.02 421.09 L528.81 421.13 L529.61 421.16 L530.41 421.19 L531.21 421.22 L532.00 421.25 L532.80 421.28 L533.60 421.31" stroke="#3E578A" stroke-dasharray="20.93 7.18"/>
<path d="M55.00 12.50 L55.80 12.50 L56.60 12.50 L57.39 12.50 L58.19 12.50 L58.99 12.50 L59.79 12.50 L60.58 12.50 L61.38 12.50 L62.18 12.51 L62.98 12.51 L63.77 12.52 L64.57 12.52 L65.37 12.53 L66.17 12.54 L66.97 12.55 L67.76 12.57 L68.56 12.59 L69.36 12.61 L70.16 12.63 L70.95 12.66 L71.75 12.69 L72.55 12.73 L73.35 12.77 L74.14 12.82 L74.94 12.87 L75.74 12.93 L76.54 12.99 L77.33 13.06 L78.13 13.14 L78.93 13.22 L79.73 13.31 L80.53 13.41 L81.32 13.51 L82.12 13.63 L82.92 13.75 L83.72 13.88 L84.51 14.02 L85.31 14.17 L86.11 14.33 L86.91 14.50 L87.70 14.68 L88.50 14.87 L89.30 15.07 L90.10 15.28 L90.89 15.50 L91.69 15.73 L92.49 15.98 L93.29 16.23 L94.09 16.50 L94.88 16.78 L95.68 17.08 L96.48 17.38 L97.28 17.70 L98.07 18.03 L98.87 18.38 L99.67 18.74 L100.47 19.11 L101.26 19.49 L102.06 19.89 L102.86 20.31 L103.66 20.73 L104.46 21.17 L105.25 21.63 L106.05 22.10 L106.85 22.58 L107.65 23.08 L108.44 23.60 L109.24 24.12 L110.04 24.67 L110.84 25.22 L111.63 25.80 L112.43 26.38 L113.23 26.98 L114.03 27.60 L114.83 28.23 L115.62 28.88 L116.42 29.54 L117.22 30.22 L118.02 30.91 L118.81 31.61 L119.61 32.33 L120.41 33.07 L121.21 33.82 L122.00 34.59 L122.80 35.37 L123.60 36.16 L124.40 36.97 L125.19 37.79 L125.99 38.63 L126.79 39.49 L127.59 40.35 L128.39 41.23 L129.18 42.13 L129.98 43.04 L130.78 43.96 L131.58 44.90 L132.37 45.85 L133.17 46.82 L133.97 47.79 L134.77 48.79 L135.56 49.79 L136.36 50.81 L137.16 51.84 L137.96 52.89 L138.75 53.94 L139.55 55.01 L140.35 56.10 L141.15 57.19 L141.95 58.30 L142.74 59.42 L143.54 60.55 L144.34 61.69 L145.14 62.84 L145.93 64.01 L146.73 65.19 L147.53 66.38 L148.33 67.57 L149.12 68.78 L149.92 70.01 L150.72 71.24 L151.52 72.48 L152.32 73.73 L153.11 74.99 L153.91 76.26 L154.71 77.54 L155.51 78.83 L156.30 80.13 L157.10 81.44 L157.90 82.76 L158.70 84.09 L159.49 85.42 L160.29 86.76 L161.09 88.12 L161.89 89.47 L162.69 90.84 L163.48 92.22 L164.28 93.60 L165.08 94.99 L165.88 96.38 L166.67 97.79 L167.47 99.20 L168.27 100.61 L169.07 102.04 L169.86 103.47 L170.66 104.90 L171.46 106.34 L172.26 107.79 L173.05 109.24 L173.85 110.70 L174.65 112.16 L175.45 113.63 L176.25 115.10 L177.04 116.58 L177.84 118.06 L178.64 119.54 L179.44 121.03 L180.23 122.52 L181.03 124.02 L181.83 125.52 L182.63 127.02 L183.42 128.53 L184.22 130.04 L185.02 131.55 L185.82 133.06 L186.62 134.58 L187.41 136.10 L188.21 137.62 L189.01 139.14 L189.81 140.67 L190.60 142.20 L191.40 143.73 L192.20 145.25 L193.00 146.79 L193.79 148.32 L194.59 149.85 L195.39 151.38 L196.19 152.92 L196.98 154.45 L197.78 155.99 L198.58 157.52 L199.38 159.06 L200.18 160.59 L200.97 162.13 L201.77 163.66 L202.57 165.20 L203.37 166.73 L204.16 168.26 L204.96 169.79 L205.76 171.32 L206.56 172.85 L207.35 174.38 L208.15 175.90 L208.95 177.43 L209.75 178.95 L210.54 180.47 L211.34 181.99 L212.14 183.51 L212.94 185.02 L213.74 186.54 L214.53 188.05 L215.33 189.55 L216.13 191.06 L216.93 192.56 L217.72 194.06 L218.52 195.56 L219.32 197.05 L220.12 198.54 L220.91 200.03 L221.71 201.51 L222.51 202.99 L223.31 204.47 L224.11 205.94 L224.90 207.41 L225.70 208.88 L226.50 210.34 L227.30 211.79 L228.09 213.25 L228.89 214.70 L229.69 216.14 L230.49 217.58 L231.28 219.02 L232.08 220.45 L232.88 221.88 L233.68 223.30 L234.47 224.72 L235.27 226.14 L236.07 227.55 L236.87 228.95 L237.67 230.35 L238.46 231.74 L239.26 233.13 L240.06 234.52 L240.86 235.90 L241.65 237.27 L242.45 238.64 L243.25 240.00 L244.05 241.36 L244.84 242.71 L245.64 244.06 L246.44 245.40 L247.24 246.74 L248.04 248.07 L248.83 249.39 L249.63 250.71 L250.43 252.02 L251.23 253.33 L252.02 254.63 L252.82 255.93 L253.62 257.22 L254.42 258.50 L255.21 259.78 L256.01 261.05 L256.81 262.32 L257.61 263.57 L258.40 264.83 L259.20 266.08 L260.00 267.32 L260.80 268.55 L261.60 269.78 L262.39 271.00 L263.19 272.22 L263.99 273.43 L264.79 274.63 L265.58 275.83 L266.38 277.02 L267.18 278.21 L267.98 279.39 L268.77 280.56 L269.57 281.72 L270.37 282.88 L271.17 284.03 L271.97 285.18 L272.76 286.32 L273.56 287.45 L274.36 288.58 L275.16 289.70 L275.95 290.82 L276.75 291.92 L277.55 293.02 L278.35 294.12 L279.14 295.21 L279.94 296.29 L280.74 297.36 L281.54 298.43 L282.34 299.49 L283.13 300.55 L283.93 301.60 L284.73 302.64 L285.53 303.68 L286.32 304.71 L287.12 305.73 L287.92 306.75 L288.72 307.76 L289.51 308.76 L290.31 309.76 L291.11 310.75 L291.91 311.73 L292.70 312.71 L293.50 313.68 L294.30 314.65 L295.10 315.61 L295.90 316.56 L296.69 317.50 L297.49 318.44 L298.29 319.38 L299.09 320.30 L299.88 321.22 L300.68 322.14 L301.48 323.05 L302.28 323.95 L303.07 324.84 L303.87 325.73 L304.67 326.61 L305.47 327.49 L306.26 328.36 L307.06 329.22 L307.86 330.08 L308.66 330.93 L309.46 331.78 L310.25 332.62 L311.05 333.45 L311.85 334.28 L312.65 335.10 L313.44 335.92 L314.24 336.73 L315.04 337.53 L315.84 338.33 L316.63 339.12 L317.43 339.90 L318.23 340.68 L319.03 341.45 L319.83 342.22 L320.62 342.98 L321.42 343.74 L322.22 344.49 L323.02 345.24 L323.81 345.97 L324.61 346.71 L325.41 347.43 L326.21 348.16 L327.00 348.87 L327.80 349.58 L328.60 350.29 L329.40 350.99 L330.19 351.68 L330.99 352.37 L331.79 353.05 L332.59 353.73 L333.39 354.40 L334.18 355.07 L334.98 355.73 L335.78 356.38 L336.58 357.03 L337.37 357.68 L338.17 358.32 L338.97 358.95 L339.77 359.58 L340.56 360.21 L341.36 360.83 L342.16 361.44 L342.96 362.05 L343.76 362.65 L344.55 363.25 L345.35 363.85 L346.15 364.43 L346.95 365.02 L347.74 365.60 L348.54 366.17 L349.34 366.74 L350.14 367.30 L350.93 367.86 L351.73 368.42 L352.53 368.97 L353.33 369.51 L354.12 370.05 L354.92 370.59 L355.72 371.12 L356.52 371.65 L357.32 372.17 L358.11 372.69 L358.91 373.20 L359.71 373.71 L360.51 374.21 L361.30 374.71 L362.10 375.21 L362.90 375.70 L363.70 376.18 L364.49 376.67 L365.29 377.15 L366.09 377.62 L366.89 378.09 L367.69 378.55 L368.48 379.01 L369.28 379.47 L370.08 379.92 L370.88 380.37 L371.67 380.82 L372.47 381.26 L373.27 381.69 L374.07 382.13 L374.86 382.56 L375.66 382.98 L376.46 383.40 L377.26 383.82 L378.06 384.23 L378.85 384.64 L379.65 385.05 L380.45 385.45 L381.25 385.85 L382.04 386.24 L382.84 386.63 L383.64 387.02 L384.44 387.40 L385.23 387.78 L386.03 388.16 L386.83 388.53 L387.63 388.90 L388.42 389.27 L389.22 389.63 L390.02 389.99 L390.82 390.34 L391.62 390.69 L392.41 391.04 L393.21 391.39 L394.01 391.73 L394.81 392.07 L395.60 392.40 L396.40 392.74 L397.20 393.07 L398.00 393.39 L398.79 393.72 L399.59 394.03 L400.39 394.35 L401.19 394.67 L401.99 394.98 L402.78 395.28 L403.58 395.59 L404.38 395.89 L405.18 396.19 L405.97 396.48 L406.77 396.78 L407.57 397.07 L408.37 397.35 L409.16 397.64 L409.96 397.92 L410.76 398.20 L411.56 398.47 L412.35 398.75 L413.15 399.02 L413.95 399.29 L414.75 399.55 L415.55 399.81 L416.34 400.07 L417.14 400.33 L417.94 400.58 L418.74 400.84 L419.53 401.09 L420.33 401.33 L421.13 401.58 L421.93 401.82 L422.72 402.06 L423.52 402.30 L424.32 402.53 L425.12 402.76 L425.92 402.99 L426.71 403.22 L427.51 403.45 L428.31 403.67 L429.11 403.89 L429.90 404.11 L430.70 404.33 L431.50 404.54 L432.30 404.75 L433.09 404.96 L433.89 405.17 L434.69 405.38 L435.49 405.58 L436.28 405.78 L437.08 405.98 L437.88 406.18 L438.68 406.37 L439.48 406.57 L440.27 406.76 L441.07 406.95 L441.87 407.13 L442.67 407.32 L443.46 407.50 L444.26 407.68 L445.06 407.86 L445.86 408.04 L446.65 408.22 L447.45 408.39 L448.25 408.56 L449.05 408.73 L449.84 408.90 L450.64 409.07 L451.44 409.23 L452.24 409.39 L453.04 409.56 L453.83 409.72 L454.63 409.87 L455.43 410.03 L456.23 410.18 L457.02 410.34 L457.82 410.49 L458.62 410.64 L459.42 410.79 L460.21 410.93 L461.01 411.08 L461.81 411.22 L462.61 411.36 L463.41 411.50 L464.20 411.64 L465.00 411.78 L465.80 411.92 L466.60 412.05 L467.39 412.18 L468.19 412.32 L468.99 412.45 L469.79 412.57 L470.58 412.70 L471.38 412.83 L472.18 412.95 L472.98 413.08 L473.77 413.20 L474.57 413.32 L475.37 413.44 L476.17 413.56 L476.97 413.67 L477.76 413.79 L478.56 413.90 L479.36 414.01 L480.16 414.13 L480.95 414.24 L481.75 414.35 L482.55 414.45 L483.35 414.56 L484.14 414.67 L484.94 414.77 L485.74 414.87 L486.54 414.98 L487.34 415.08 L488.13 415.18 L488.93 415.28 L489.73 415.37 L490.53 415.47 L491.32 415.57 L492.12 415.66 L492.92 415.75 L493.72 415.85 L494.51 415.94 L495.31 416.03 L496.11 416.12 L496.91 416.21 L497.70 416.29 L498.50 416.38 L499.30 416.46 L500.10 416.55 L500.90 416.63 L501.69 416.72 L502.49 416.80 L503.29 416.88 L504.09 416.96 L504.88 417.04 L505.68 417.11 L506.48 417.19 L507.28 417.27 L508.07 417.34 L508.87 417.42 L509.67 417.49 L510.47 417.56 L511.27 417.64 L512.06 417.71 L512.86 417.78 L513.66 417.85 L514.46 417.92 L515.25 417.98 L516.05 418.05 L516.85 418.12 L517.65 418.18 L518.44 418.25 L519.24 418.31 L520.04 418.38 L520.84 418.44 L521.63 418.50 L522.43 418.56 L523.23 418.62 L524.03 418.68 L524.83 418.74 L525.62 418.80 L526.42 418.86 L527.22 418.92 L528.02 418.97 L528.81 419.03 L529.61 419.08 L530.41 419.14 L531.21 419.19 L532.00 419.25 L532.80 419.30 L533.60 419.35" stroke="#780072" stroke-dasharray="13.72 7.0 3.16 7.02"/>
<path d="M55.00 12.50 L55.80 12.50 L56.60 12.50 L57.39 12.50 L58.19 12.50 L58.99 12.50 L59.79 12.50 L60.58 12.50 L61.38 12.50 L62.18 12.50 L62.98 12.50 L63.77 12.50 L64.57 12.50 L65.37 12.51 L66.17 12.51 L66.97 12.51 L67.76 12.52 L68.56 12.52 L69.36 12.53 L70.16 12.53 L70.95 12.54 L71.75 12.55 L72.55 12.56 L73.35 12.58 L74.14 12.59 L74.94 12.61 L75.74 12.63 L76.54 12.65 L77.33 12.67 L78.13 12.70 L78.93 12.73 L79.73 12.76 L80.53 12.80 L81.32 12.84 L82.12 12.88 L82.92 12.93 L83.72 12.98 L84.51 13.04 L85.31 13.10 L86.11 13.17 L86.91 13.24 L87.70 13.31 L88.50 13.40 L89.30 13.48 L90.10 13.57 L90.89 13.67 L91.69 13.78 L92.49 13.89 L93.29 14.01 L94.09 14.13 L94.88 14.26 L95.68 14.40 L96.48 14.55 L97.28 14.70 L98.07 14.86 L98.87 15.03 L99.67 15.21 L100.47 15.40 L101.26 15.59 L102.06 15.80 L102.86 16.01 L103.66 16.23 L104.46 16.46 L105.25 16.70 L106.05 16.95 L106.85 17.21 L107.65 17.48 L108.44 17.75 L109.24 18.04 L110.04 18.34 L110.84 18.65 L111.63 18.97 L112.43 19.30 L113.23 19.64 L114.03 20.00 L114.83 20.36 L115.62 20.73 L116.42 21.12 L117.22 21.51 L118.02 21.92 L118.81 22.34 L119.61 22.77 L120.41 23.21 L121.21 23.67 L122.00 24.13 L122.80 24.61 L123.60 25.10 L124.40 25.60 L125.19 26.12 L125.99 26.64 L126.79 27.18 L127.59 27.73 L128.39 28.29 L129.18 28.86 L129.98 29.45 L130.78 30.05 L131.58 30.66 L132.37 31.28 L133.17 31.91 L133.97 32.56 L134.77 33.22 L135.56 33.89 L136.36 34.57 L137.16 35.27 L137.96 35.98 L138.75 36.70 L139.55 37.43 L140.35 38.17 L141.15 38.93 L141.95 39.69 L142.74 40.47 L143.54 41.27 L144.34 42.07 L145.14 42.89 L145.93 43.71 L146.73 44.55 L147.53 45.40 L148.33 46.26 L149.12 47.14 L149.92 48.02 L150.72 48.92 L151.52 49.83 L152.32 50.74 L153.11 51.67 L153.91 52.62 L154.71 53.57 L155.51 54.53 L156.30 55.50 L157.10 56.49 L157.90 57.48 L158.70 58.49 L159.49 59.50 L160.29 60.53 L161.09 61.56 L161.89 62.61 L162.69 63.67 L163.48 64.73 L164.28 65.81 L165.08 66.89 L165.88 67.99 L166.67 69.09 L167.47 70.20 L168.27 71.33 L169.07 72.46 L169.86 73.60 L170.66 74.75 L171.46 75.90 L172.26 77.07 L173.05 78.24 L173.85 79.43 L174.65 80.62 L175.45 81.81 L176.25 83.02 L177.04 84.23 L177.84 85.46 L178.64 86.69 L179.44 87.92 L180.23 89.17 L181.03 90.42 L181.83 91.67 L182.63 92.94 L183.42 94.21 L184.22 95.49 L185.02 96.77 L185.82 98.06 L186.62 99.35 L187.41 100.66 L188.21 101.96 L189.01 103.28 L189.81 104.59 L190.60 105.92 L191.40 107.25 L192.20 108.58 L193.00 109.92 L193.79 111.26 L194.59 112.61 L195.39 113.97 L196.19 115.32 L196.98 116.68 L197.78 118.05 L198.58 119.42 L199.38 120.79 L200.18 122.17 L200.97 123.55 L201.77 124.93 L202.57 126.32 L203.37 127.71 L204.16 129.11 L204.96 130.50 L205.76 131.90 L206.56 133.30 L207.35 134.71 L208.15 136.11 L208.95 137.52 L209.75 138.93 L210.54 140.34 L211.34 141.76 L212.14 143.17 L212.94 144.59 L213.74 146.01 L214.53 147.43 L215.33 148.85 L216.13 150.28 L216.93 151.70 L217.72 153.12 L218.52 154.55 L219.32 155.97 L220.12 157.40 L220.91 158.83 L221.71 160.25 L222.51 161.68 L223.31 163.11 L224.11 164.53 L224.90 165.96 L225.70 167.39 L226.50 168.81 L227.30 170.24 L228.09 171.66 L228.89 173.09 L229.69 174.51 L230.49 175.93 L231.28 177.35 L232.08 178.77 L232.88 180.19 L233.68 181.61 L234.47 183.02 L235.27 184.43 L236.07 185.85 L236.87 187.26 L237.67 188.67 L238.46 190.07 L239.26 191.48 L240.06 192.88 L240.86 194.28 L241.65 195.68 L242.45 197.07 L243.25 198.47 L244.05 199.86 L244.84 201.24 L245.64 202.63 L246.44 204.01 L247.24 205.39 L248.04 206.77 L248.83 208.14 L249.63 209.51 L250.43 210.88 L251.23 212.24 L252.02 213.60 L252.82 214.96 L253.62 216.32 L254.42 217.67 L255.21 219.01 L256.01 220.36 L256.81 221.69 L257.61 223.03 L258.40 224.36 L259.20 225.69 L260.00 227.01 L260.80 228.33 L261.60 229.65 L262.39 230.96 L263.19 232.27 L263.99 233.57 L264.79 234.87 L265.58 236.16 L266.38 237.45 L267.18 238.74 L267.98 240.02 L268.77 241.30 L269.57 242.57 L270.37 243.84 L271.17 245.10 L271.97 246.36 L272.76 247.61 L273.56 248.86 L274.36 250.10 L275.16 251.34 L275.95 252.57 L276.75 253.80 L277.55 255.03 L278.35 256.24 L279.14 257.46 L279.94 258.67 L280.74 259.87 L281.54 261.07 L282.34 262.26 L283.13 263.45 L283.93 264.63 L284.73 265.81 L285.53 266.98 L286.32 268.15 L287.12 269.31 L287.92 270.46 L288.72 271.62 L289.51 272.76 L290.31 273.90 L291.11 275.03 L291.91 276.16 L292.70 277.29 L293.50 278.40 L294.30 279.52 L295.10 280.62 L295.90 281.72 L296.69 282.82 L297.49 283.91 L298.29 284.99 L299.09 286.07 L299.88 287.14 L300.68 288.21 L301.48 289.27 L302.28 290.33 L303.07 291.38 L303.87 292.42 L304.67 293.46 L305.47 294.50 L306.26 295.52 L307.06 296.55 L307.86 297.56 L308.66 298.57 L309.46 299.58 L310.25 300.58 L311.05 301.57 L311.85 302.56 L312.65 303.54 L313.44 304.52 L314.24 305.49 L315.04 306.45 L315.84 307.41 L316.63 308.37 L317.43 309.31 L318.23 310.26 L319.03 311.19 L319.83 312.12 L320.62 313.05 L321.42 313.97 L322.22 314.88 L323.02 315.79 L323.81 316.69 L324.61 317.59 L325.41 318.48 L326.21 319.37 L327.00 320.25 L327.80 321.12 L328.60 321.99 L329.40 322.85 L330.19 323.71 L330.99 324.56 L331.79 325.41 L332.59 326.25 L333.39 327.08 L334.18 327.91 L334.98 328.74 L335.78 329.56 L336.58 330.37 L337.37 331.18 L338.17 331.98 L338.97 332.78 L339.77 333.57 L340.56 334.35 L341.36 335.13 L342.16 335.91 L342.96 336.68 L343.76 337.44 L344.55 338.20 L345.35 338.96 L346.15 339.70 L346.95 340.45 L347.74 341.19 L348.54 341.92 L349.34 342.65 L350.14 343.37 L350.93 344.09 L351.73 344.80 L352.53 345.50 L353.33 346.21 L354.12 346.90 L354.92 347.59 L355.72 348.28 L356.52 348.96 L357.32 349.64 L358.11 350.31 L358.91 350.98 L359.71 351.64 L360.51 352.29 L361.30 352.95 L362.10 353.59 L362.90 354.23 L363.70 354.87 L364.49 355.50 L365.29 356.13 L366.09 356.75 L366.89 357.37 L367.69 357.98 L368.48 358.59 L369.28 359.19 L370.08 359.79 L370.88 360.39 L371.67 360.98 L372.47 361.56 L373.27 362.14 L374.07 362.72 L374.86 363.29 L375.66 363.86 L376.46 364.42 L377.26 364.98 L378.06 365.53 L378.85 366.08 L379.65 366.62 L380.45 367.16 L381.25 367.70 L382.04 368.23 L382.84 368.76 L383.64 369.28 L384.44 369.80 L385.23 370.31 L386.03 370.82 L386.83 371.33 L387.63 371.83 L388.42 372.33 L389.22 372.82 L390.02 373.31 L390.82 373.80 L391.62 374.28 L392.41 374.76 L393.21 375.23 L394.01 375.70 L394.81 376.16 L395.60 376.63 L396.40 377.08 L397.20 377.54 L398.00 377.99 L398.79 378.43 L399.59 378.88 L400.39 379.31 L401.19 379.75 L401.99 380.18 L402.78 380.61 L403.58 381.03 L404.38 381.45 L405.18 381.87 L405.97 382.28 L406.77 382.69 L407.57 383.10 L408.37 383.50 L409.16 383.90 L409.96 384.29 L410.76 384.68 L411.56 385.07 L412.35 385.46 L413.15 385.84 L413.95 386.22 L414.75 386.59 L415.55 386.96 L416.34 387.33 L417.14 387.70 L417.94 388.06 L418.74 388.42 L419.53 388.77 L420.33 389.12 L421.13 389.47 L421.93 389.82 L422.72 390.16 L423.52 390.50 L424.32 390.84 L425.12 391.17 L425.92 391.50 L426.71 391.83 L427.51 392.15 L428.31 392.47 L429.11 392.79 L429.90 393.11 L430.70 393.42 L431.50 393.73 L432.30 394.03 L433.09 394.34 L433.89 394.64 L434.69 394.94 L435.49 395.23 L436.28 395.53 L437.08 395.82 L437.88 396.10 L438.68 396.39 L439.48 396.67 L440.27 396.95 L441.07 397.23 L441.87 397.50 L442.67 397.77 L443.46 398.04 L444.26 398.31 L445.06 398.57 L445.86 398.84 L446.65 399.10 L447.45 399.35 L448.25 399.61 L449.05 399.86 L449.84 400.11 L450.64 400.35 L451.44 400.60 L452.24 400.84 L453.04 401.08 L453.83 401.32 L454.63 401.55 L455.43 401.79 L456.23 402.02 L457.02 402.25 L457.82 402.47 L458.62 402.70 L459.42 402.92 L460.21 403.14 L461.01 403.36 L461.81 403.57 L462.61 403.79 L463.41 404.00 L464.20 404.21 L465.00 404.41 L465.80 404.62 L466.60 404.82 L467.39 405.02 L468.19 405.22 L468.99 405.42 L469.79 405.62 L470.58 405.81 L471.38 406.00 L472.18 406.19 L472.98 406.38 L473.77 406.56 L474.57 406.75 L475.37 406.93 L476.17 407.11 L476.97 407.29 L477.76 407.47 L478.56 407.64 L479.36 407.82 L480.16 407.99 L480.95 408.16 L481.75 408.32 L482.55 408.49 L483.35 408.66 L484.14 408.82 L484.94 408.98 L485.74 409.14 L486.54 409.30 L487.34 409.45 L488.13 409.61 L488.93 409.76 L489.73 409.92 L490.53 410.07 L491.32 410.21 L492.12 410.36 L492.92 410.51 L493.72 410.65 L494.51 410.79 L495.31 410.94 L496.11 411.08 L496.91 411.21 L497.70 411.35 L498.50 411.49 L499.30 411.62 L500.10 411.75 L500.90 411.88 L501.69 412.01 L502.49 412.14 L503.29 412.27 L504.09 412.40 L504.88 412.52 L505.68 412.65 L506.48 412.77 L507.28 412.89 L508.07 413.01 L508.87 413.13 L509.67 413.24 L510.47 413.36 L511.27 413.47 L512.06 413.59 L512.86 413.70 L513.66 413.81 L514.46 413.92 L515.25 414.03 L516.05 414.14 L516.85 414.24 L517.65 414.35 L518.44 414.45 L519.24 414.56 L520.04 414.66 L520.84 414.76 L521.63 414.86 L522.43 414.96 L523.23 415.06 L524.03 415.15 L524.83 415.25 L525.62 415.34 L526.42 415.44 L527.22 415.53 L528.02 415.62 L528.81 415.71 L529.61 415.80 L530.41 415.89 L531.21 415.98 L532.00 416.07 L532.80 416.15 L533.60 416.24" stroke="#00786A" stroke-dasharray="3.2 6.617"/>
</g>
<path d="M55.00 12.5 V426.50 H533.9" fill="none" stroke="#0c0c0c" stroke-width="1.7" stroke-linejoin="miter"/>
<g><g class="yl">
<text transform="translate(45.90 390.64) rotate(0.03) scale(1.000 1)" text-anchor="end">0.1</text>
<text transform="translate(45.90 349.53) rotate(0.03) scale(1.000 1)" text-anchor="end">0.2</text>
<text transform="translate(45.90 308.42) rotate(0.03) scale(1.000 1)" text-anchor="end">0.3</text>
<text transform="translate(45.90 267.31) rotate(0.03) scale(1.000 1)" text-anchor="end">0.4</text>
<text transform="translate(45.90 226.20) rotate(0.03) scale(1.000 1)" text-anchor="end">0.5</text>
<text transform="translate(45.90 185.09) rotate(0.03) scale(1.000 1)" text-anchor="end">0.6</text>
<text transform="translate(45.90 143.98) rotate(0.03) scale(1.000 1)" text-anchor="end">0.7</text>
<text transform="translate(45.90 102.87) rotate(0.03) scale(1.000 1)" text-anchor="end">0.8</text>
<text transform="translate(45.90 61.76) rotate(0.03) scale(1.000 1)" text-anchor="end">0.9</text>
<text transform="translate(45.90 20.65) rotate(0.03) scale(1.000 1)" text-anchor="end">1.0</text>
</g>
<text transform="translate(55.50 452.00) rotate(0.03) scale(1.000 1)" text-anchor="middle">0</text>
<text transform="translate(151.22 452.00) rotate(0.03) scale(1.000 1)" text-anchor="middle">2</text>
<text transform="translate(246.94 452.00) rotate(0.03) scale(1.000 1)" text-anchor="middle">4</text>
<text transform="translate(342.66 452.00) rotate(0.03) scale(1.000 1)" text-anchor="middle">6</text>
<text transform="translate(438.38 452.00) rotate(0.03) scale(1.000 1)" text-anchor="middle">8</text>
<text transform="translate(534.10 452.00) rotate(0.03) scale(1.000 1)" text-anchor="middle">10</text></g>
<text x="294.3" y="473.4" text-anchor="middle" class="it">t</text>
<rect x="5.05" y="484.25" width="533.1" height="60.4" fill="none" stroke="#000" stroke-width="1.8"/>
<line x1="10.00" x2="57.60" y1="499.80" y2="499.80" stroke="#78000E" stroke-width="3.20"/>
<text class="lg al" transform="translate(65.20 509.65) scale(1.3 1.1)" x="-0.6" y="0">α</text>
<text class="lg" transform="translate(77.60 507.90) scale(1.07 0.72)" x="-1" y="0">=</text>
<text class="lg ld" transform="translate(89.40 509.45) rotate(0.03) scale(0.94 1)">1</text>
<line x1="123.10" x2="170.70" y1="499.80" y2="499.80" stroke="#000E78" stroke-width="3.20" stroke-dasharray="35.1 7.1"/>
<text class="lg al" transform="translate(178.30 509.65) scale(1.3 1.1)" x="-0.6" y="0">α</text>
<text class="lg" transform="translate(190.70 507.90) scale(1.07 0.72)" x="-1" y="0">=</text>
<text class="lg ld" transform="translate(202.50 509.45) rotate(0.03) scale(0.94 1)">1.5</text>
<line x1="235.90" x2="283.50" y1="499.80" y2="499.80" stroke="#4A7800" stroke-width="3.20" stroke-dasharray="21.15 21.05"/>
<text class="lg al" transform="translate(291.10 509.65) scale(1.3 1.1)" x="-0.6" y="0">α</text>
<text class="lg" transform="translate(303.50 507.90) scale(1.07 0.72)" x="-1" y="0">=</text>
<text class="lg ld" transform="translate(315.30 509.45) rotate(0.03) scale(0.94 1)">2</text>
<line x1="332.00" x2="379.60" y1="499.80" y2="499.80" stroke="#3E578A" stroke-width="3.20" stroke-dasharray="20.93 7.18"/>
<text class="lg al" transform="translate(387.20 509.65) scale(1.3 1.1)" x="-0.6" y="0">α</text>
<text class="lg" transform="translate(399.60 507.90) scale(1.07 0.72)" x="-1" y="0">=</text>
<text class="lg ld" transform="translate(411.40 509.45) rotate(0.03) scale(0.94 1)">2.5</text>
<line x1="445.00" x2="492.60" y1="499.80" y2="499.80" stroke="#780072" stroke-width="3.20" stroke-dasharray="13.72 7.0 3.16 7.02"/>
<text class="lg al" transform="translate(500.20 509.65) scale(1.3 1.1)" x="-0.6" y="0">α</text>
<text class="lg" transform="translate(512.60 507.90) scale(1.07 0.72)" x="-1" y="0">=</text>
<text class="lg ld" transform="translate(524.40 509.45) rotate(0.03) scale(0.94 1)">3</text>
<line x1="10.00" x2="57.60" y1="528.10" y2="528.10" stroke="#00786A" stroke-width="3.20" stroke-dasharray="3.2 6.617"/>
<text class="lg al" transform="translate(65.20 537.95) scale(1.3 1.1)" x="-0.6" y="0">α</text>
<text class="lg" transform="translate(77.60 536.20) scale(1.07 0.72)" x="-1" y="0">=</text>
<text class="lg ld" transform="translate(89.40 537.75) rotate(0.03) scale(0.94 1)">3.5</text>
</svg>
</body></html>
